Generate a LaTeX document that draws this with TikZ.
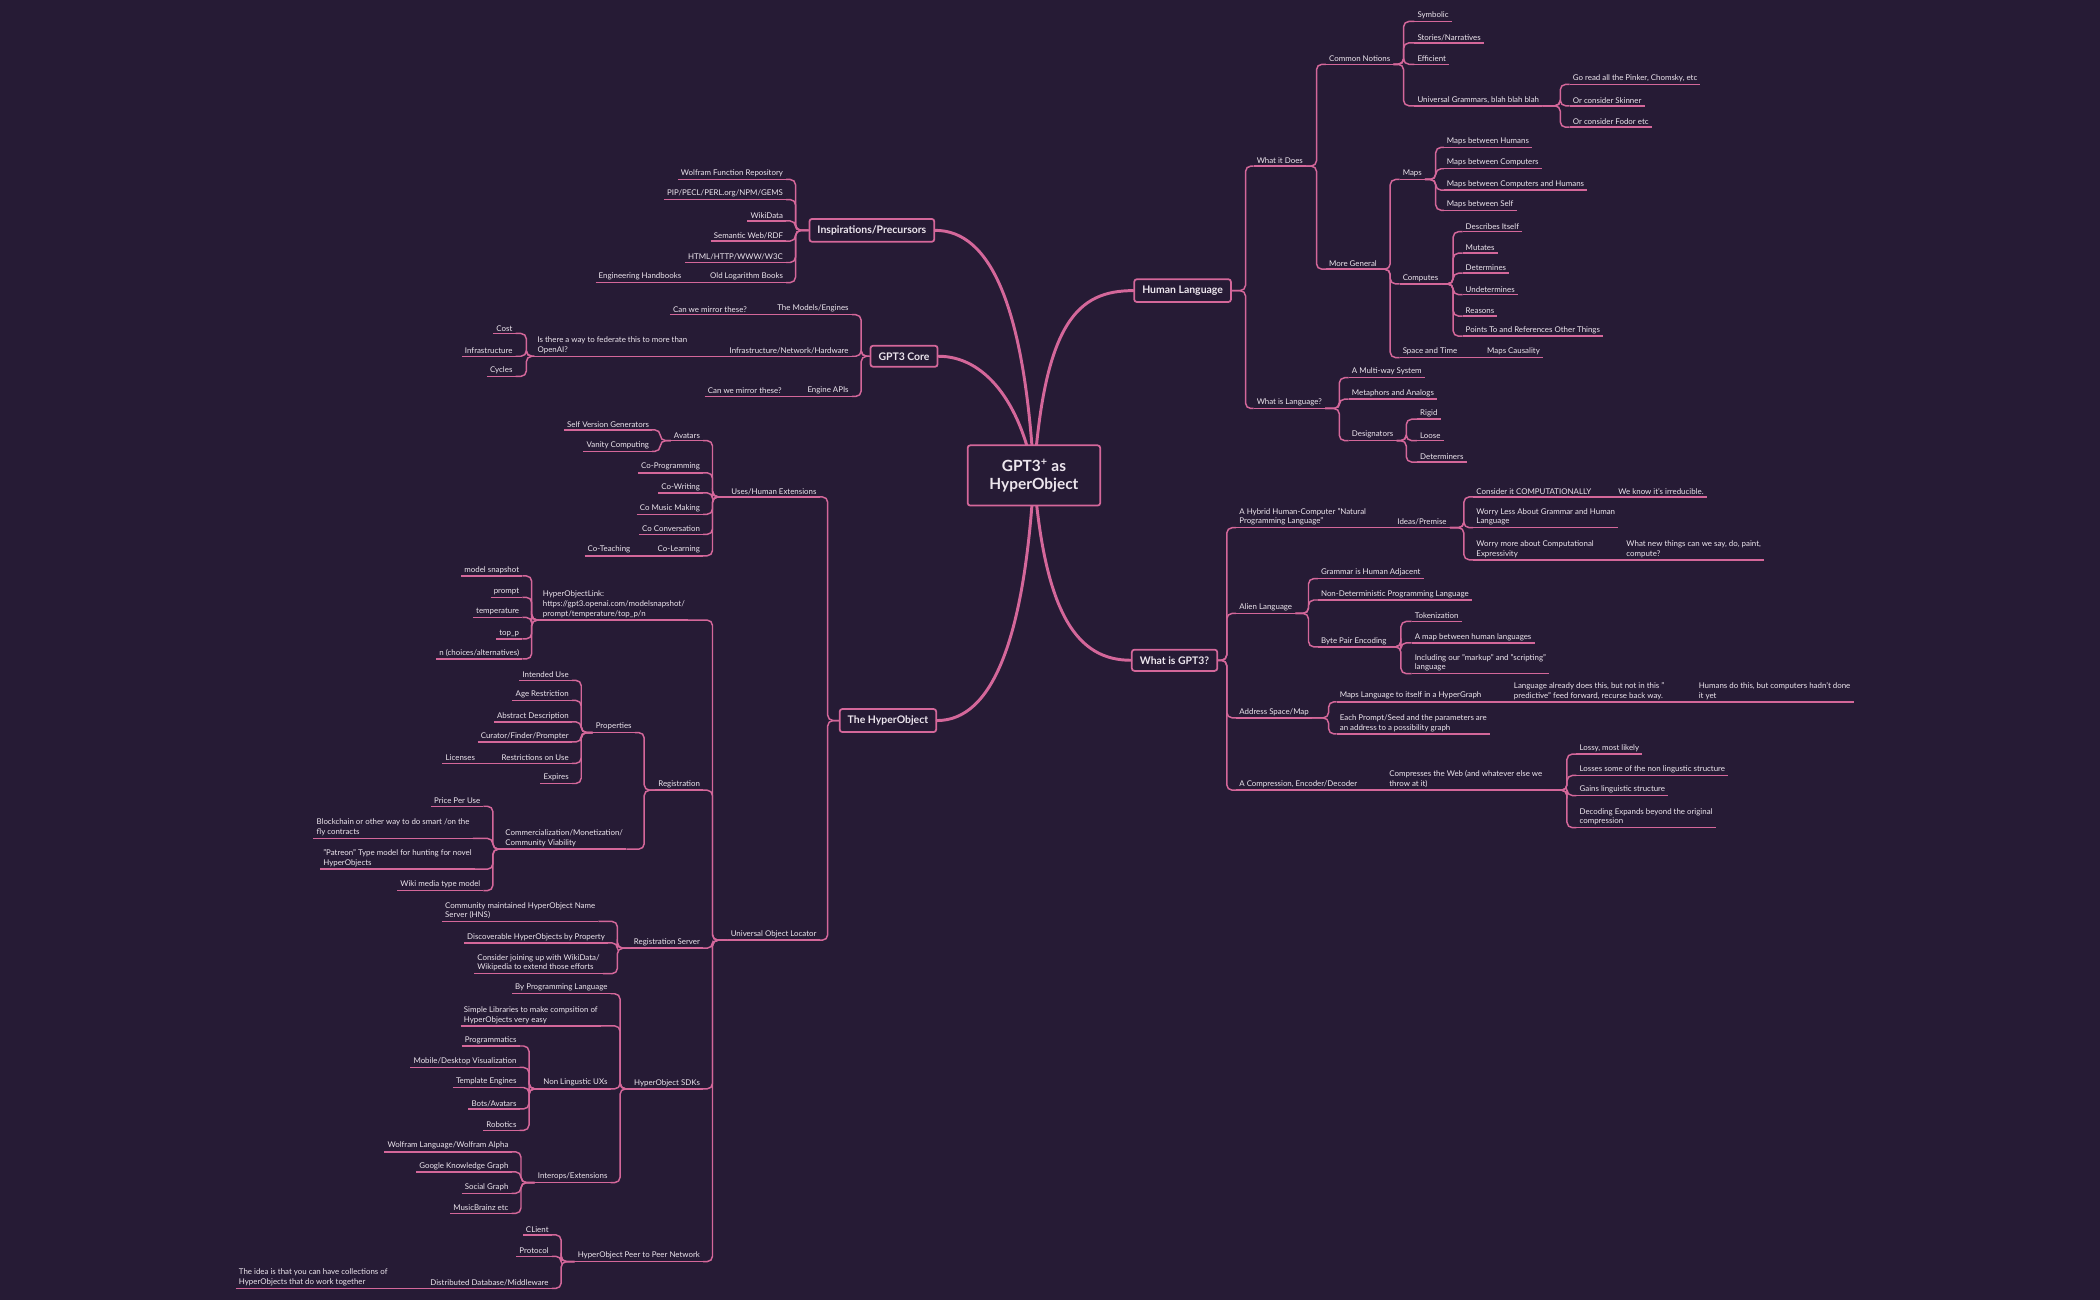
\documentclass[tikz,border=0pt]{standalone}
\usepackage{fontspec}
\setmainfont{Lato}
\definecolor{bg}{HTML}{261B35}
\definecolor{pk}{HTML}{D4679A}
\definecolor{tx}{HTML}{EDE6EE}
\tikzset{
 lbl/.style={inner xsep=2.2pt,inner ysep=1.6pt,text=tx,font=\fontsize{5.9}{7.3}\selectfont,align=left},
 ul/.style={draw=pk,line width=1.1pt},
 ln/.style={draw=pk,line width=1.1pt,rounded corners=4pt},
 box/.style={draw=pk,line width=1.3pt,rounded corners=2pt,fill=bg,text=tx,font=\bfseries\fontsize{7.8}{9}\selectfont,inner xsep=6pt,inner ysep=5pt},
 main/.style={draw=pk,line width=2.2pt,line cap=round}
}
\newcommand\RN[4]{\node[lbl,anchor=south west] (#1) at (#2,#3) {#4};\draw[ul] (#1.south west)--(#1.south east);}
\newcommand\LN[4]{\node[lbl,anchor=south east] (#1) at (#2,#3) {#4};\draw[ul] (#1.south west)--(#1.south east);}
\newcommand\CR[3]{\draw[ln] (#1) -- (#3,0 |- #1) |- (#2.south west);}
\newcommand\CL[3]{\draw[ln] (#1) -- (#3,0 |- #1) |- (#2.south east);}
\begin{document}
\begin{tikzpicture}[x=1pt,y=-1pt]
\fill[bg] (0,0) rectangle (1568,971);
\useasboundingbox (0,0) rectangle (1568,971);
% main boxes
\node[box] (hl) at (883,217) {Human Language};
\node[box] (wg) at (877,493) {What is GPT3?};
\node[box] (ins) at (651,172) {Inspirations/Precursors};
\node[box] (core) at (675,266) {GPT3 Core};
\node[box] (hyp) at (663,538) {The HyperObject};
\coordinate (cc) at (772,355);
\draw[main] (cc) .. controls (765,230) and (740,172) .. (ins.east);
\draw[main] (cc) .. controls (762,300) and (735,266) .. (core.east);
\draw[main] (cc) .. controls (765,480) and (740,538) .. (hyp.east);
\draw[main] (cc) .. controls (780,240) and (805,217) .. (hl.west);
\draw[main] (cc) .. controls (780,460) and (805,493) .. (wg.west);
\node[box,font=\bfseries\fontsize{11.5}{13.5}\selectfont,align=center,inner xsep=8pt,inner ysep=6pt,minimum width=99pt,minimum height=45pt] (ctr) at (772,355) {GPT3\textsuperscript{+} as\\HyperObject};
% ---- Human Language
\RN{wid}{936}{124}{What it Does}\CR{hl.east}{wid}{930}
\RN{wil}{936}{305}{What is Language?}\CR{hl.east}{wil}{930}
\RN{cn}{990}{48}{Common Notions}\CR{wid.south east}{cn}{983}
\RN{mg}{990}{201}{More General}\CR{wid.south east}{mg}{983}
\RN{sy}{1056}{16}{Symbolic}\CR{cn.south east}{sy}{1048}
\RN{st}{1056}{32}{Stories/Narratives}\CR{cn.south east}{st}{1048}
\RN{ef}{1056}{48}{Efficient}\CR{cn.south east}{ef}{1048}
\RN{ug}{1056}{79}{Universal Grammars, blah blah blah}\CR{cn.south east}{ug}{1048}
\RN{pi}{1172}{63}{Go read all the Pinker, Chomsky, etc}\CR{ug.south east}{pi}{1165}
\RN{sk}{1172}{79}{Or consider Skinner}\CR{ug.south east}{sk}{1165}
\RN{fo}{1172}{95}{Or consider Fodor etc}\CR{ug.south east}{fo}{1165}
\RN{mp}{1045}{134}{Maps}\CR{mg.south east}{mp}{1038}
\RN{cp}{1045}{212}{Computes}\CR{mg.south east}{cp}{1038}
\RN{spt}{1045}{267}{Space and Time}\CR{mg.south east}{spt}{1038}
\RN{mc}{1108}{267}{Maps Causality}\draw[ln] (spt.south east)--(mc.south west);
\RN{m1}{1078}{110}{Maps between Humans}\CR{mp.south east}{m1}{1072}
\RN{m2}{1078}{126}{Maps between Computers}\CR{mp.south east}{m2}{1072}
\RN{m3}{1078}{142}{Maps between Computers and Humans}\CR{mp.south east}{m3}{1072}
\RN{m4}{1078}{157}{Maps between Self}\CR{mp.south east}{m4}{1072}
\RN{c1}{1092}{173}{Describes Itself}\CR{cp.south east}{c1}{1085}
\RN{c2}{1092}{189}{Mutates}\CR{cp.south east}{c2}{1085}
\RN{c3}{1092}{204}{Determines}\CR{cp.south east}{c3}{1085}
\RN{c4}{1092}{220}{Undetermines}\CR{cp.south east}{c4}{1085}
\RN{c5}{1092}{236}{Reasons}\CR{cp.south east}{c5}{1085}
\RN{c6}{1092}{251}{Points To and References Other Things}\CR{cp.south east}{c6}{1085}
\RN{mw}{1007}{282}{A Multi-way System}\CR{wil.south east}{mw}{1000}
\RN{ma}{1007}{298}{Metaphors and Analogs}\CR{wil.south east}{ma}{1000}
\RN{de}{1007}{329}{Designators}\CR{wil.south east}{de}{1000}
\RN{d1}{1058}{313}{Rigid}\CR{de.south east}{d1}{1050}
\RN{d2}{1058}{329}{Loose}\CR{de.south east}{d2}{1050}
\RN{d3}{1058}{345}{Determiners}\CR{de.south east}{d3}{1050}
% ---- What is GPT3
\RN{hy}{923}{394}{A Hybrid Human-Computer "Natural\\Programming Language"}\CR{wg.east}{hy}{916}
\RN{al}{923}{458}{Alien Language}\CR{wg.east}{al}{916}
\RN{as}{923}{536}{Address Space/Map}\CR{wg.east}{as}{916}
\RN{co}{923}{590}{A Compression, Encoder/Decoder}\CR{wg.east}{co}{916}
\RN{ip}{1041}{394}{Ideas/Premise}\draw[ln] (hy.south east)--(ip.south west);
\RN{i1}{1100}{371}{Consider it COMPUTATIONALLY}\CR{ip.south east}{i1}{1093}
\RN{i1b}{1206}{371}{We know it's irreducible.}\draw[ln] (i1.south east)--(i1b.south west);
\RN{i2}{1100}{394}{Worry Less About Grammar and Human\\Language}\CR{ip.south east}{i2}{1093}
\RN{i3}{1100}{418}{Worry more about Computational\\Expressivity}\CR{ip.south east}{i3}{1093}
\RN{i3b}{1212}{418}{What new things can we say, do, paint,\\compute?}\draw[ln] (i3.south east)--(i3b.south west);
\RN{a1}{984}{432}{Grammar is Human Adjacent}\CR{al.south east}{a1}{977}
\RN{a2}{984}{448}{Non-Deterministic Programming Language}\CR{al.south east}{a2}{977}
\RN{bp}{984}{483}{Byte Pair Encoding}\CR{al.south east}{bp}{977}
\RN{b1}{1054}{464}{Tokenization}\CR{bp.south east}{b1}{1046}
\RN{b2}{1054}{480}{A map between human languages}\CR{bp.south east}{b2}{1046}
\RN{b3}{1054}{503}{Including our "markup" and "scripting"\\language}\CR{bp.south east}{b3}{1046}
\RN{s1}{998}{524}{Maps Language to itself in a HyperGraph}\CR{as.south east}{s1}{992}
\RN{s2}{998}{548}{Each Prompt/Seed and the parameters are\\an address to a possibility graph}\CR{as.south east}{s2}{992}
\RN{s3}{1128}{524}{Language already does this, but not in this "\\predictive" feed forward, recurse back way.}\draw[ln] (s1.south east)--(s3.south west);
\RN{s4}{1266}{524}{Humans do this, but computers hadn't done\\it yet}\draw[ln] (s3.south east)--(s4.south west);
\RN{cw}{1035}{590}{Compresses the Web (and whatever else we\\throw at it)}\draw[ln] (co.south east)--(cw.south west);
\RN{w1}{1177}{563}{Lossy, most likely}\CR{cw.south east}{w1}{1170}
\RN{w2}{1177}{579}{Losses some of the non lingustic structure}\CR{cw.south east}{w2}{1170}
\RN{w3}{1177}{594}{Gains linguistic structure}\CR{cw.south east}{w3}{1170}
\RN{w4}{1177}{618}{Decoding Expands beyond the original\\compression}\CR{cw.south east}{w4}{1170}
% ---- Inspirations
\LN{p1}{587}{134}{Wolfram Function Repository}\CL{ins.west}{p1}{594}
\LN{p2}{587}{149}{PIP/PECL/PERL.org/NPM/GEMS}\CL{ins.west}{p2}{594}
\LN{p3}{587}{165}{WikiData}\CL{ins.west}{p3}{594}
\LN{p4}{587}{180}{Semantic Web/RDF}\CL{ins.west}{p4}{594}
\LN{p5}{587}{196}{HTML/HTTP/WWW/W3C}\CL{ins.west}{p5}{594}
\LN{p6}{587}{211}{Old Logarithm Books}\CL{ins.west}{p6}{594}
\LN{p7}{511}{211}{Engineering Handbooks}\draw[ln] (p6.south west)--(p7.south east);
% ---- GPT3 core
\LN{g1}{636}{235}{The Models/Engines}\CL{core.west}{g1}{643}
\LN{g1b}{560}{235}{Can we mirror these?}\draw[ln] (g1.south west)--(g1b.south east);
\LN{g2}{636}{266}{Infrastructure/Network/Hardware}\CL{core.west}{g2}{643}
\RN{fed}{399}{266}{Is there a way to federate this to more than\\OpenAI?}\draw[ln] (g2.south west)--(fed.south east);
\LN{f1}{385}{249}{Cost}\CL{fed.south west}{f1}{393}
\LN{f2}{385}{266}{Infrastructure}\CL{fed.south west}{f2}{393}
\LN{f3}{385}{281}{Cycles}\CL{fed.south west}{f3}{393}
\LN{g3}{636}{296}{Engine APIs}\CL{core.west}{g3}{643}
\LN{g3b}{586}{296}{Can we mirror these?}\draw[ln] (g3.south west)--(g3b.south east);
% ---- HyperObject
\LN{uh}{612}{371}{Uses/Human Extensions}\CL{hyp.west}{uh}{618}
\LN{uol}{612}{702}{Universal Object Locator}\CL{hyp.west}{uol}{618}
\LN{av}{525}{329}{Avatars}\CL{uh.south west}{av}{532}
\LN{u2}{525}{353}{Co-Programming}\CL{uh.south west}{u2}{532}
\LN{u3}{525}{368}{Co-Writing}\CL{uh.south west}{u3}{532}
\LN{u4}{525}{384}{Co Music Making}\CL{uh.south west}{u4}{532}
\LN{u5}{525}{399}{Co Conversation}\CL{uh.south west}{u5}{532}
\LN{u6}{525}{415}{Co-Learning}\CL{uh.south west}{u6}{532}
\LN{u6b}{473}{415}{Co-Teaching}\draw[ln] (u6.south west)--(u6b.south east);
\LN{v1}{487}{321}{Self Version Generators}\CL{av.south west}{v1}{493}
\LN{v2}{487}{337}{Vanity Computing}\CL{av.south west}{v2}{493}
\RN{hol}{403}{463}{HyperObjectLink:\\https://gpt3.openai.com/modelsnapshot/\\prompt/temperature/top\_p/n}\CL{uol.south west}{hol}{532}
\LN{reg}{525}{590}{Registration}\CL{uol.south west}{reg}{532}
\LN{rs}{525}{708}{Registration Server}\CL{uol.south west}{rs}{532}
\LN{sdk}{525}{813}{HyperObject SDKs}\CL{uol.south west}{sdk}{532}
\LN{p2p}{525}{942}{HyperObject Peer to Peer Network}\CL{uol.south west}{p2p}{532}
\LN{h1}{390}{430}{model snapshot}\CL{hol.south west}{h1}{397}
\LN{h2}{390}{446}{prompt}\CL{hol.south west}{h2}{397}
\LN{h3}{390}{461}{temperature}\CL{hol.south west}{h3}{397}
\LN{h4}{390}{477}{top\_p}\CL{hol.south west}{h4}{397}
\LN{h5}{390}{492}{n (choices/alternatives)}\CL{hol.south west}{h5}{397}
\LN{pr}{474}{547}{Properties}\CL{reg.south west}{pr}{481}
\RN{cm}{375}{634}{Commercialization/Monetization/\\Community Viability}\CL{reg.south west}{cm}{481}
\LN{q1}{427}{508}{Intended Use}\CL{pr.south west}{q1}{434}
\LN{q2}{427}{523}{Age Restriction}\CL{pr.south west}{q2}{434}
\LN{q3}{427}{539}{Abstract Description}\CL{pr.south west}{q3}{434}
\LN{q4}{427}{554}{Curator/Finder/Prompter}\CL{pr.south west}{q4}{434}
\LN{q5}{427}{570}{Restrictions on Use}\CL{pr.south west}{q5}{434}
\LN{q5b}{357}{570}{Licenses}\draw[ln] (q5.south west)--(q5b.south east);
\LN{q6}{427}{585}{Expires}\CL{pr.south west}{q6}{434}
\LN{k1}{361}{602}{Price Per Use}\CL{cm.south west}{k1}{368}
\RN{k2}{234}{626}{Blockchain or other way to do smart /on the\\fly contracts}\CL{cm.south west}{k2}{368}
\RN{k3}{239}{649}{"Patreon" Type model for hunting for novel\\HyperObjects}\CL{cm.south west}{k3}{368}
\LN{k4}{361}{665}{Wiki media type model}\CL{cm.south west}{k4}{368}
\RN{r1}{330}{688}{Community maintained HyperObject Name\\Server (HNS)}\CL{rs.south west}{r1}{461}
\LN{r2}{454}{704}{Discoverable HyperObjects by Property}\CL{rs.south west}{r2}{461}
\RN{r3}{354}{727}{Consider joining up with WikiData/\\Wikipedia to extend those efforts}\CL{rs.south west}{r3}{461}
\LN{e1}{456}{742}{By Programming Language}\CL{sdk.south west}{e1}{463}
\RN{e2}{344}{766}{Simple Libraries to make compsition of\\HyperObjects very easy}\CL{sdk.south west}{e2}{463}
\LN{nl}{456}{813}{Non Lingustic UXs}\CL{sdk.south west}{nl}{463}
\LN{ie}{456}{883}{Interops/Extensions}\CL{sdk.south west}{ie}{463}
\LN{n1}{388}{781}{Programmatics}\CL{nl.south west}{n1}{395}
\LN{n2}{388}{797}{Mobile/Desktop Visualization}\CL{nl.south west}{n2}{395}
\LN{n3}{388}{812}{Template Engines}\CL{nl.south west}{n3}{395}
\LN{n4}{388}{828}{Bots/Avatars}\CL{nl.south west}{n4}{395}
\LN{n5}{388}{844}{Robotics}\CL{nl.south west}{n5}{395}
\LN{j1}{382}{860}{Wolfram Language/Wolfram Alpha}\CL{ie.south west}{j1}{389}
\LN{j2}{382}{875}{Google Knowledge Graph}\CL{ie.south west}{j2}{389}
\LN{j3}{382}{891}{Social Graph}\CL{ie.south west}{j3}{389}
\LN{j4}{382}{906}{MusicBrainz etc}\CL{ie.south west}{j4}{389}
\LN{t1}{412}{922}{CLient}\CL{p2p.south west}{t1}{419}
\LN{t2}{412}{938}{Protocol}\CL{p2p.south west}{t2}{419}
\LN{t3}{412}{962}{Distributed Database/Middleware}\CL{p2p.south west}{t3}{419}
\RN{t4}{176}{962}{The idea is that you can have collections of\\HyperObjects that do work together}\draw[ln] (t3.south west)--(t4.south east);
\end{tikzpicture}
\end{document}
